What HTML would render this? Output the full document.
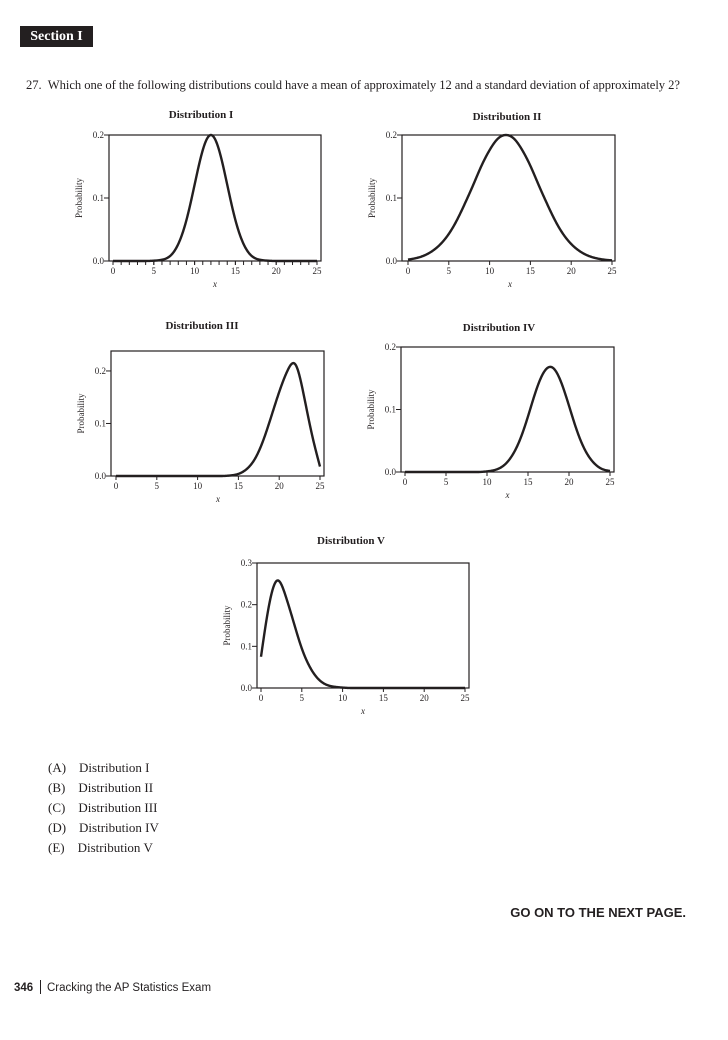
<!DOCTYPE html>
<html><head><meta charset="utf-8"><style>
html,body{margin:0;padding:0;background:#fff}
body{width:728px;height:1040px;position:relative;overflow:hidden;font-family:"Liberation Serif",serif;color:#231f20}
.abs{position:absolute;white-space:nowrap}
</style></head><body>
<div class="abs" style="left:20px;top:26px;width:73px;height:21px;background:#231f20;color:#fff;font-weight:bold;font-size:14px;line-height:21px;text-align:center">Section I</div>
<div class="abs" style="left:26px;top:78px;font-size:12.6px;letter-spacing:-0.05px">27.&nbsp;&nbsp;Which one of the following distributions could have a mean of approximately 12 and a standard deviation of approximately 2?</div>
<svg id="charts" width="728" height="720" style="position:absolute;left:0;top:0"></svg>
<div class="abs" style="left:48px;top:758px;font-size:13px;line-height:20px">
<div>(A)&nbsp;&nbsp;&nbsp;&nbsp;Distribution I</div>
<div>(B)&nbsp;&nbsp;&nbsp;&nbsp;Distribution II</div>
<div>(C)&nbsp;&nbsp;&nbsp;&nbsp;Distribution III</div>
<div>(D)&nbsp;&nbsp;&nbsp;&nbsp;Distribution IV</div>
<div>(E)&nbsp;&nbsp;&nbsp;&nbsp;Distribution V</div>
</div>
<div class="abs" style="right:42px;top:905px;font-family:'Liberation Sans',sans-serif;font-weight:bold;font-size:13px">GO ON TO THE NEXT PAGE.</div>
<div class="abs" style="left:14px;top:980px;font-family:'Liberation Sans Narrow','Liberation Sans',sans-serif;font-stretch:condensed;font-size:11.5px"><b>346</b>&nbsp;&nbsp;<span style="display:inline-block;width:1px;height:14px;background:#231f20;vertical-align:-3px"></span>&nbsp;&nbsp;Cracking the AP Statistics Exam</div>
<script>
const xTicks=[0,5,10,15,20,25];
const xValues=[0,1,2,3,4,5,6,7,8,9,10,11,12,13,14,15,16,17,18,19,20,21,22,23,24,25];
const dist1=[0,0,0,0,0,0.0005,0.002,0.008,0.027,0.065,0.121,0.176,0.2,0.176,0.121,0.065,0.027,0.008,0.002,0.0005,0,0,0,0,0,0];
const dist2=[0.0022,0.0046,0.0088,0.016,0.027,0.043,0.065,0.092,0.121,0.151,0.176,0.194,0.2,0.194,0.176,0.151,0.121,0.092,0.065,0.043,0.027,0.016,0.0088,0.0046,0.0022,0.001];
const dist3=[0,0,0,0,0,0,0,0,0,0,0,0,0,0,0.001,0.004,0.013,0.032,0.066,0.112,0.16,0.2,0.212,0.155,0.08,0.018];
const dist4=[0,0,0,0,0,0,0,0,0,0,0.001,0.0034,0.01,0.025,0.051,0.089,0.131,0.161,0.167,0.145,0.106,0.065,0.034,0.015,0.005,0.0017];
const dist5=[0.075,0.2,0.258,0.222,0.158,0.095,0.05,0.022,0.008,0.003,0.001,0,0,0,0,0,0,0,0,0,0,0,0,0,0,0];
const yTicks12=["0.0","0.1","0.2"];
const yTicks5=["0.0","0.1","0.2","0.3"];
const titles=["Distribution I","Distribution II","Distribution III","Distribution IV","Distribution V"];

const svg=document.getElementById('charts');
const NS='http://www.w3.org/2000/svg';
function mk(t,a){const e=document.createElementNS(NS,t);for(const k in a)e.setAttribute(k,a[k]);svg.appendChild(e);return e;}
function spline(ys){ // natural cubic spline second derivatives, unit spacing
  const n=ys.length,m=new Array(n).fill(0),c=new Array(n).fill(0),d=new Array(n).fill(0);
  for(let i=1;i<n-1;i++){const r=6*(ys[i+1]-2*ys[i]+ys[i-1]);const den=4-(i>1?c[i-1]:0);c[i]=1/den;d[i]=(r-(i>1?d[i-1]:0))/den;}
  for(let i=n-2;i>0;i--){m[i]=d[i]-c[i]*m[i+1];}
  return t=>{let i=Math.min(n-2,Math.floor(t));const u=t-i,a=1-u;
    return a*ys[i]+u*ys[i+1]+((a*a*a-a)*m[i]+(u*u*u-u)*m[i+1])/6;};
}
function chart(name,title,vals,yt,ymax,g){
  const sx=v=>g.x0+(v/25)*(g.x25-g.x0);
  const sy=v=>g.b-(v/ymax)*(g.b-g.t);
  let e=mk('rect',{x:g.l,y:g.t,width:g.r-g.l,height:g.b-g.t,fill:'none',stroke:'#231f20','stroke-width':1.2});
  
  e=mk('text',{x:g.tx,y:g.ty,'text-anchor':'middle','font-size':11,'font-weight':'bold','font-family':'Liberation Serif, serif',fill:'#231f20'});e.textContent=title;
  
  yt.forEach(l=>{const v=parseFloat(l),y=sy(v);
    mk('line',{x1:g.l-5,x2:g.l,y1:y,y2:y,stroke:'#231f20','stroke-width':1});
    e=mk('text',{x:g.l-5,y:y+3,'text-anchor':'end','font-size':9,'font-family':'Liberation Serif, serif',fill:'#231f20'});e.textContent=l;
    });
  if(g.minor){for(let i=0;i<=25;i++){mk('line',{x1:sx(i),x2:sx(i),y1:g.b,y2:g.b+4,stroke:'#231f20','stroke-width':1});}}
  xTicks.forEach(v=>{const x=sx(v);
    mk('line',{x1:x,x2:x,y1:g.b,y2:g.b+4,stroke:'#231f20','stroke-width':1});
    e=mk('text',{x:x,y:g.b+13,'text-anchor':'middle','font-size':9,'font-family':'Liberation Serif, serif',fill:'#231f20'});e.textContent=v;
    });
  e=mk('text',{x:(g.x0+g.x25)/2,y:g.b+26,'text-anchor':'middle','font-size':9,'font-style':'italic','font-family':'Liberation Serif, serif',fill:'#231f20'});e.textContent='x';
  
  const yc=(g.t+g.b)/2;
  e=mk('text',{x:g.l-27,y:yc,'text-anchor':'middle','font-size':9,'font-family':'Liberation Serif, serif',fill:'#231f20',transform:'rotate(-90 '+(g.l-27)+' '+yc+')'});e.textContent='Probability';
  
  const f=spline(vals);const x0=xValues[0],x1=xValues[xValues.length-1];
  let d='';
  for(let k=0;k<=500;k++){const t=x0+(x1-x0)*k/500;const v=Math.max(0,f(t-x0));
    d+=(k?' L':'M')+sx(t).toFixed(2)+','+sy(v).toFixed(2);}
  e=mk('path',{d:d,fill:'none',stroke:'#231f20','stroke-width':2.4,'stroke-linejoin':'round'});
  
}
chart('dist-1',titles[0],dist1,yTicks12,0.2,{l:109,r:321,t:135,b:261,x0:113,x25:317,tx:201,ty:118,minor:true});
chart('dist-2',titles[1],dist2,yTicks12,0.2,{l:402,r:615,t:135,b:261,x0:408,x25:612,tx:507,ty:120});
chart('dist-3',titles[2],dist3,yTicks12,0.238,{l:111,r:324,t:351,b:476,x0:116,x25:320,tx:202,ty:329});
chart('dist-4',titles[3],dist4,yTicks12,0.2,{l:401,r:614,t:347,b:472,x0:405,x25:610,tx:499,ty:331});
chart('dist-5',titles[4],dist5,yTicks5,0.3,{l:257,r:469,t:563,b:688,x0:261,x25:465,tx:351,ty:544});
</script>
</body></html>
